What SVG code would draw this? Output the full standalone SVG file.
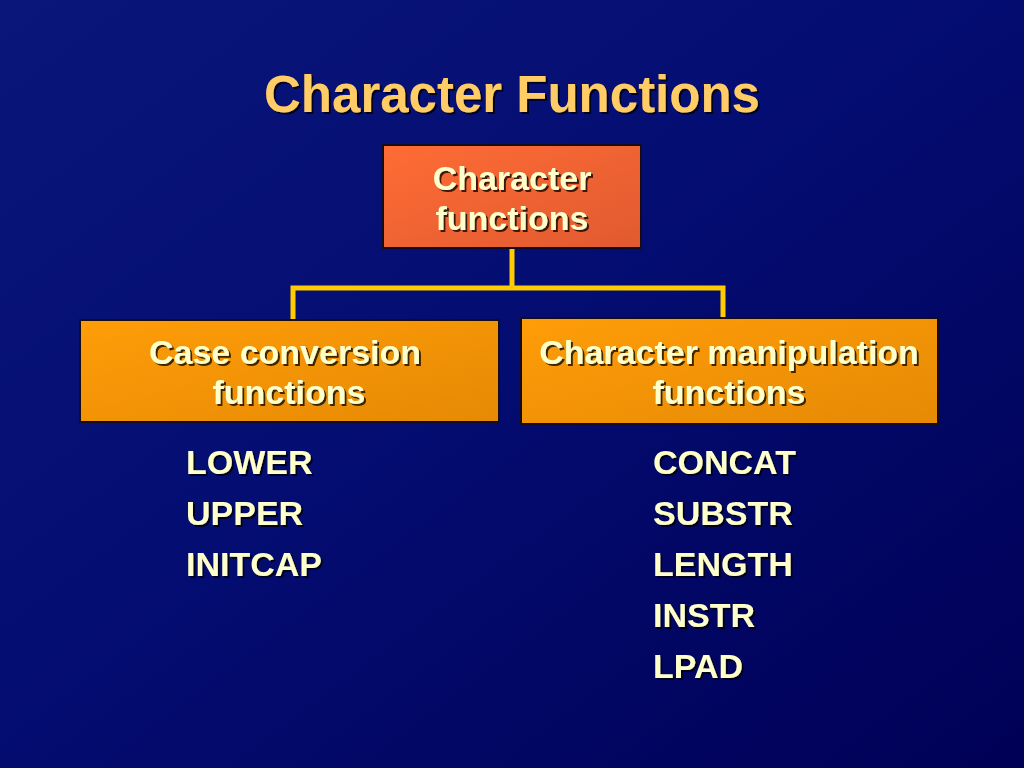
<svg xmlns="http://www.w3.org/2000/svg" width="1024" height="768" viewBox="0 0 1024 768">
<defs>
<linearGradient id="bg" x1="0" y1="0" x2="1" y2="1">
<stop offset="0" stop-color="#0a167a"/>
<stop offset="0.45" stop-color="#040d72"/>
<stop offset="1" stop-color="#000056"/>
</linearGradient>
<linearGradient id="gTop" x1="0" y1="0" x2="1" y2="1">
<stop offset="0" stop-color="#ff6c35"/>
<stop offset="1" stop-color="#e05a30"/>
</linearGradient>
<linearGradient id="gSub" x1="0" y1="0" x2="1" y2="1">
<stop offset="0" stop-color="#ff9d08"/>
<stop offset="1" stop-color="#e68a05"/>
</linearGradient>
<filter id="sh" x="-10%" y="-10%" width="130%" height="140%">
<feDropShadow dx="2" dy="2" stdDeviation="0.6" flood-color="#000000" flood-opacity="0.75"/>
</filter>
</defs>
<style>
text{font-family:"Liberation Sans",Arial,sans-serif;font-weight:bold;}
.title{font-size:51px;fill:#ffcc66;}
.lbl{font-size:34px;fill:#ffffcc;text-anchor:middle;}
.item{font-size:34px;fill:#ffffcc;}
.box{stroke:#140c18;stroke-width:2;}
.conn{fill:none;stroke:#ffcc00;stroke-width:5;}
</style>
<rect x="0" y="0" width="1024" height="768" fill="url(#bg)"/>
<text class="title" x="512" y="112" text-anchor="middle" filter="url(#sh)">Character Functions</text>
<g id="connectors">
<path class="conn" d="M512,249 V288 M293,320 V288 H723 V318"/>
</g>
<g id="node-top">
<rect class="box" x="383" y="145" width="258" height="103" fill="url(#gTop)"/>
<text class="lbl" x="512" y="190" filter="url(#sh)">Character</text>
<text class="lbl" x="512" y="230" filter="url(#sh)">functions</text>
</g>
<g id="node-case">
<rect class="box" x="80" y="320" width="419" height="102" fill="url(#gSub)"/>
<text class="lbl" x="285" y="364" filter="url(#sh)">Case conversion</text>
<text class="lbl" x="289" y="404" filter="url(#sh)">functions</text>
</g>
<g id="node-manip">
<rect class="box" x="521" y="318" width="417" height="106" fill="url(#gSub)"/>
<text class="lbl" x="729" y="364" filter="url(#sh)">Character manipulation</text>
<text class="lbl" x="729" y="404" filter="url(#sh)">functions</text>
</g>
<g id="list-case">
<text class="item" x="186" y="474" filter="url(#sh)">LOWER</text>
<text class="item" x="186" y="525" filter="url(#sh)">UPPER</text>
<text class="item" x="186" y="576" filter="url(#sh)">INITCAP</text>
</g>
<g id="list-manip">
<text class="item" x="653" y="474" filter="url(#sh)">CONCAT</text>
<text class="item" x="653" y="525" filter="url(#sh)">SUBSTR</text>
<text class="item" x="653" y="576" filter="url(#sh)">LENGTH</text>
<text class="item" x="653" y="627" filter="url(#sh)">INSTR</text>
<text class="item" x="653" y="678" filter="url(#sh)">LPAD</text>
</g>
</svg>
